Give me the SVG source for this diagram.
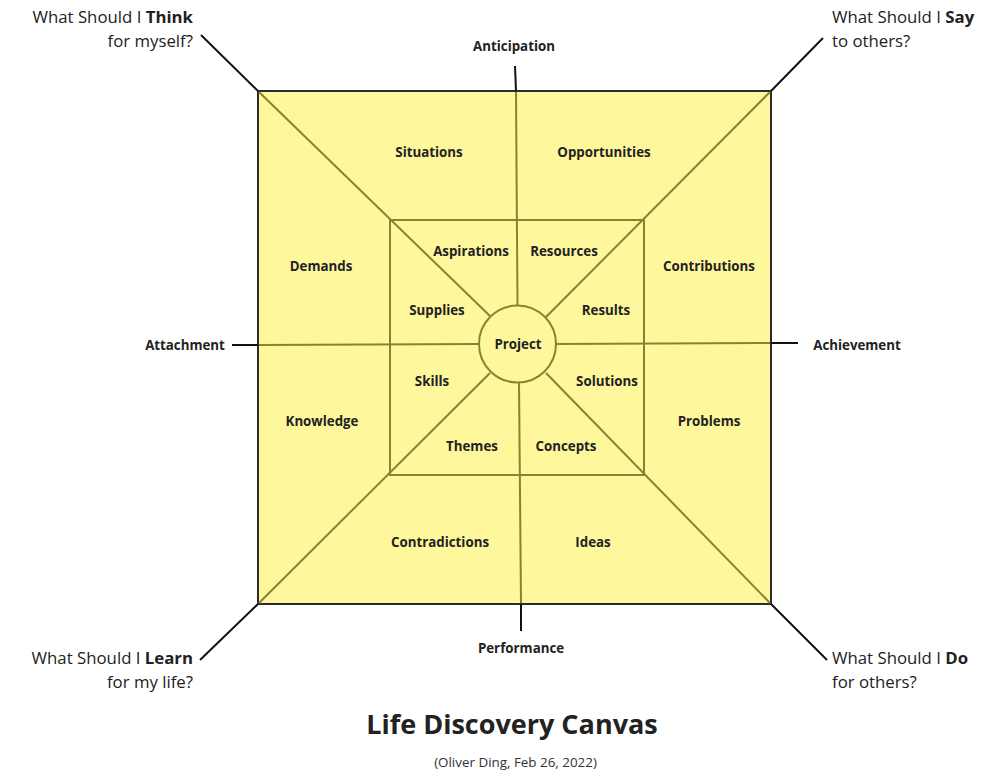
<svg xmlns="http://www.w3.org/2000/svg" width="1002" height="782" viewBox="0 0 1002 782">
<style>
.lbl{font-family:"Open Sans","Liberation Sans",sans-serif;font-weight:bold;font-size:13.3px;fill:#222;text-anchor:middle}
.q{font-family:"Open Sans","Liberation Sans",sans-serif;font-size:16.8px;fill:#222}
.b{font-weight:bold}
.ol{stroke:#8b8133;stroke-width:2;fill:none}
.bk{stroke:#111;stroke-width:2;fill:none}
</style>
<rect width="1002" height="782" fill="#fff"/>
<g id="canvas">
<rect x="258" y="91" width="513" height="513" fill="#fff79c" stroke="#2b2b2b" stroke-width="2"/>
</g>
<g id="connectors">
<rect x="390" y="220" width="254" height="255" class="ol"/>
<line x1="516" y1="92" x2="517.5" y2="305" class="ol"/>
<line x1="519" y1="383" x2="521" y2="603" class="ol"/>
<line x1="259" y1="345" x2="479" y2="344" class="ol"/>
<line x1="556" y1="344" x2="770" y2="343" class="ol"/>
<line x1="259" y1="92" x2="490" y2="316" class="ol"/>
<line x1="770" y1="92" x2="546" y2="317" class="ol"/>
<line x1="259" y1="603" x2="490" y2="373" class="ol"/>
<line x1="770" y1="603" x2="546" y2="373" class="ol"/>
<line x1="515" y1="66" x2="516" y2="91" class="bk"/>
<line x1="521" y1="604" x2="521" y2="631" class="bk"/>
<line x1="232" y1="345" x2="258" y2="345" class="bk"/>
<line x1="771" y1="343" x2="798" y2="343" class="bk"/>
<line x1="258" y1="91" x2="201" y2="35" class="bk"/>
<line x1="771" y1="91" x2="823" y2="38" class="bk"/>
<line x1="258" y1="604" x2="200" y2="660" class="bk"/>
<line x1="771" y1="604" x2="827" y2="660" class="bk"/>
</g>
<g id="project">
<circle cx="517.5" cy="344" r="38.5" fill="#fff79c" stroke="#8b8133" stroke-width="2"/>
<text x="518" y="349" class="lbl">Project</text>
</g>
<g id="outer-labels">
<text x="514" y="51" class="lbl">Anticipation</text>
<text x="521" y="653" class="lbl">Performance</text>
<text x="185" y="350" class="lbl">Attachment</text>
<text x="857" y="350" class="lbl">Achievement</text>
</g>
<g id="outer-cells">
<text x="429" y="157" class="lbl">Situations</text>
<text x="604" y="157" class="lbl">Opportunities</text>
<text x="321" y="271" class="lbl">Demands</text>
<text x="709" y="271" class="lbl">Contributions</text>
<text x="322" y="426" class="lbl">Knowledge</text>
<text x="709" y="426" class="lbl">Problems</text>
<text x="440" y="547" class="lbl">Contradictions</text>
<text x="593" y="547" class="lbl">Ideas</text>
</g>
<g id="inner-cells">
<text x="471" y="256" class="lbl">Aspirations</text>
<text x="564" y="256" class="lbl">Resources</text>
<text x="437" y="315" class="lbl">Supplies</text>
<text x="606" y="315" class="lbl">Results</text>
<text x="432" y="386" class="lbl">Skills</text>
<text x="607" y="386" class="lbl">Solutions</text>
<text x="472" y="451" class="lbl">Themes</text>
<text x="566" y="451" class="lbl">Concepts</text>
</g>
<g id="questions">
<text x="193" y="23" class="q" text-anchor="end">What Should I <tspan class="b">Think</tspan></text>
<text x="193" y="47" class="q" text-anchor="end">for myself?</text>
<text x="832" y="23" class="q">What Should I <tspan class="b">Say</tspan></text>
<text x="832" y="47" class="q">to others?</text>
<text x="193" y="664" class="q" text-anchor="end">What Should I <tspan class="b">Learn</tspan></text>
<text x="193" y="688" class="q" text-anchor="end">for my life?</text>
<text x="832" y="664" class="q">What Should I <tspan class="b">Do</tspan></text>
<text x="832" y="688" class="q">for others?</text>
</g>
<g id="title">
<text x="512" y="734" font-family="Open Sans, Liberation Sans, sans-serif" font-weight="bold" font-size="27" fill="#222" text-anchor="middle">Life Discovery Canvas</text>
<text x="515.5" y="767" font-family="Open Sans, Liberation Sans, sans-serif" font-size="13.4" fill="#333" text-anchor="middle">(Oliver Ding, Feb 26, 2022)</text>
</g>
</svg>
